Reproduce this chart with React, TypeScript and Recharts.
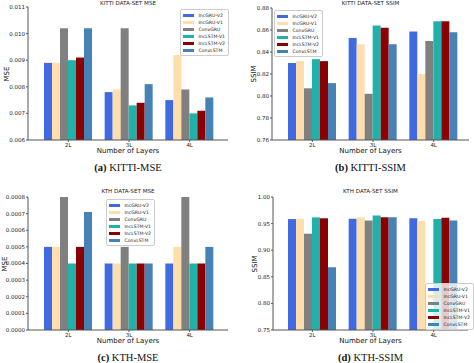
import React from 'react';
import { BarChart, Bar, XAxis, YAxis, Legend } from 'recharts';

const layers = ['2L', '3L', '4L'];
const models = ['IncGRU-V2', 'IncGRU-V1', 'ConvGRU', 'IncLSTM-V1', 'IncLSTM-V2', 'ConvLSTM'];
const colors = ['#4169e1', '#ffdead', '#808080', '#20b2aa', '#8b0000', '#4682b4'];

// one row per model, one value per layer count
const kittiMse = [
  [0.0089, 0.0078, 0.0075],
  [0.0089, 0.0079, 0.0092],
  [0.0102, 0.0102, 0.0079],
  [0.009, 0.0073, 0.007],
  [0.0091, 0.0074, 0.0071],
  [0.0102, 0.0081, 0.0076],
];
const kittiSsim = [
  [0.83, 0.8527, 0.8587],
  [0.8317, 0.847, 0.82],
  [0.807, 0.802, 0.85],
  [0.8335, 0.864, 0.868],
  [0.8317, 0.862, 0.8679],
  [0.8117, 0.847, 0.858],
];
const kthMse = [
  [0.0005, 0.0004, 0.0004],
  [0.0005, 0.0004, 0.0005],
  [0.0008, 0.0005, 0.0008],
  [0.0004, 0.0004, 0.0004],
  [0.0005, 0.0004, 0.0004],
  [0.00071, 0.0004, 0.0005],
];
const kthSsim = [
  [0.9585, 0.959, 0.96],
  [0.959, 0.962, 0.955],
  [0.931, 0.956, null],
  [0.9617, 0.965, 0.9585],
  [0.96, 0.962, 0.961],
  [0.868, 0.962, 0.956],
];

const kittiMseTicks = [0.006, 0.007, 0.008, 0.009, 0.01, 0.011];
const kittiSsimTicks = [0.76, 0.78, 0.8, 0.82, 0.84, 0.86, 0.88];
const kthMseTicks = [0, 0.0001, 0.0002, 0.0003, 0.0004, 0.0005, 0.0006, 0.0007, 0.0008];
const kthSsimTicks = [0.75, 0.8, 0.85, 0.9, 0.95, 1.0];

const SANS = '"DejaVu Sans", sans-serif';
const SERIF = '"Liberation Serif", serif';
const TICK = { fontSize: 5.5, fill: '#222', fontFamily: SANS };
const AXIS = '#555';

function toRows(values: (number | null)[][]) {
  return layers.map((layer, i) => {
    const row: Record<string, any> = { layer };
    models.forEach((m, j) => {
      row[m] = values[j][i];
    });
    return row;
  });
}

function LegendBox() {
  return (
    <div
      style={{
        background: 'rgba(255,255,255,0.8)',
        border: '1px solid #ccc',
        borderRadius: 2,
        padding: '2px 3px 1px 2px',
        fontFamily: SANS,
        fontSize: 4.6,
        color: '#222',
        lineHeight: '7px',
      }}
    >
      {models.map((m, i) => (
        <div key={m} style={{ display: 'flex', alignItems: 'center', height: 7 }}>
          <span style={{ display: 'inline-block', width: 10.5, height: 3.5, background: colors[i], marginRight: 5 }} />
          <span style={{ whiteSpace: 'nowrap' }}>{m}</span>
        </div>
      ))}
    </div>
  );
}

interface PanelProps {
  left: number;
  top: number;
  height: number;
  values: (number | null)[][];
  ticks: number[];
  digits: number;
  yWidth: number;
  marginTop: number;
  marginRight: number;
  pad: { left: number; right: number };
  legendPos: { left: number; top: number };
  title: string;
  titleY: number;
  yLabel: string;
  yLabelX: number;
  caption: string;
  captionLetter: string;
}

function Panel(p: PanelProps) {
  const data = toRows(p.values);
  const plotLeft = p.yWidth;
  const plotRight = 237 - p.marginRight;
  const plotBottom = p.height - 20;
  const cx = (plotLeft + plotRight) / 2;
  return (
    <div style={{ position: 'absolute', left: p.left, top: p.top, width: 237, height: 183 }}>
      <BarChart
        width={237}
        height={p.height}
        data={data}
        margin={{ top: p.marginTop, right: p.marginRight, left: 0, bottom: 0 }}
        barSize={8}
        barGap={0}
      >
        <XAxis
          dataKey="layer"
          height={20}
          padding={p.pad}
          tick={TICK}
          tickSize={2}
          tickMargin={1}
          stroke={AXIS}
          interval={0}
        />
        <XAxis xAxisId="top" orientation="top" height={0} tick={false} tickLine={false} stroke={AXIS} />
        <YAxis
          width={p.yWidth}
          domain={[p.ticks[0], p.ticks[p.ticks.length - 1]]}
          ticks={p.ticks}
          allowDataOverflow
          tickFormatter={(v: number) => v.toFixed(p.digits)}
          tick={TICK}
          tickSize={2}
          tickMargin={1}
          stroke={AXIS}
        />
        <YAxis yAxisId="right" orientation="right" width={0} tick={false} tickLine={false} stroke={AXIS} />
        <Legend
          layout="vertical"
          align="center"
          verticalAlign="middle"
          wrapperStyle={{ left: p.legendPos.left, top: p.legendPos.top, width: 'auto', height: 'auto' }}
          content={() => <LegendBox />}
        />
        {models.map((m, i) => (
          <Bar key={m} dataKey={m} fill={colors[i]} isAnimationActive={false} />
        ))}
      </BarChart>
      <div
        style={{
          position: 'absolute',
          left: cx - 80,
          width: 160,
          top: p.titleY,
          textAlign: 'center',
          fontFamily: SANS,
          fontSize: 5.6,
          color: '#222',
          lineHeight: '7px',
        }}
      >
        {p.title}
      </div>
      <div
        style={{
          position: 'absolute',
          left: p.yLabelX - 30,
          width: 60,
          top: (p.marginTop + plotBottom) / 2 - 4,
          textAlign: 'center',
          fontFamily: SANS,
          fontSize: 7,
          color: '#111',
          lineHeight: '8px',
          transform: 'rotate(-90deg)',
        }}
      >
        {p.yLabel}
      </div>
      <div
        style={{
          position: 'absolute',
          left: cx - 60,
          width: 120,
          top: plotBottom + 7,
          textAlign: 'center',
          fontFamily: SANS,
          fontSize: 7,
          color: '#111',
          lineHeight: '8px',
        }}
      >
        Number of Layers
      </div>
      <div
        style={{
          position: 'absolute',
          left: cx - 80,
          width: 160,
          top: plotBottom + 22,
          textAlign: 'center',
          fontFamily: SERIF,
          fontSize: 10.5,
          color: '#111',
          lineHeight: '12px',
        }}
      >
        <b>({p.captionLetter})</b> {p.caption}
      </div>
    </div>
  );
}

export default function App() {
  return (
    <div style={{ position: 'absolute', left: 0, top: 0, width: 474, height: 363, background: '#fff', overflow: 'hidden' }}>
      <Panel
        left={0}
        top={0}
        height={160}
        values={kittiMse}
        ticks={kittiMseTicks}
        digits={3}
        yWidth={28}
        marginTop={7}
        marginRight={9}
        pad={{ left: 10, right: 8 }}
        legendPos={{ left: 180, top: 9 }}
        title="KITTI DATA-SET MSE"
        titleY={0}
        yLabel="MSE"
        yLabelX={7}
        caption="KITTI-MSE"
        captionLetter="a"
      />
      <Panel
        left={237}
        top={0}
        height={160}
        values={kittiSsim}
        ticks={kittiSsimTicks}
        digits={2}
        yWidth={35}
        marginTop={8}
        marginRight={5}
        pad={{ left: 10, right: 5 }}
        legendPos={{ left: 37, top: 10 }}
        title="KITTI DATA-SET SSIM"
        titleY={0}
        yLabel="SSIM"
        yLabelX={17}
        caption="KITTI-SSIM"
        captionLetter="b"
      />
      <Panel
        left={0}
        top={180}
        height={170}
        values={kthMse}
        ticks={kthMseTicks}
        digits={4}
        yWidth={28}
        marginTop={17}
        marginRight={9}
        pad={{ left: 10, right: 8 }}
        legendPos={{ left: 106, top: 19 }}
        title="KTH DATA-SET MSE"
        titleY={8}
        yLabel="MSE"
        yLabelX={5}
        caption="KTH-MSE"
        captionLetter="c"
      />
      <Panel
        left={237}
        top={180}
        height={170}
        values={kthSsim}
        ticks={kthSsimTicks}
        digits={2}
        yWidth={36}
        marginTop={17}
        marginRight={6}
        pad={{ left: 9, right: 4 }}
        legendPos={{ left: 188, top: 103 }}
        title="KTH DATA-SET SSIM"
        titleY={8}
        yLabel="SSIM"
        yLabelX={18}
        caption="KTH-SSIM"
        captionLetter="d"
      />
    </div>
  );
}
